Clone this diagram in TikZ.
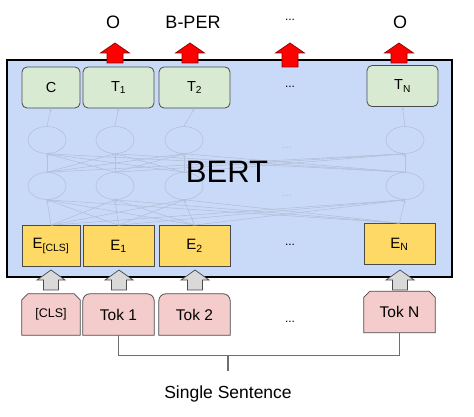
\documentclass[tikz,border=0pt]{standalone}
\usepackage{fontspec}
\setmainfont{Liberation Sans}
\usetikzlibrary{shapes.geometric,arrows.meta,backgrounds}
\definecolor{bertblue}{HTML}{C9DAF8}
\definecolor{outgreen}{HTML}{D9EAD3}
\definecolor{embyellow}{HTML}{FFD966}
\definecolor{tokpink}{HTML}{F4CCCC}
\definecolor{boxline}{HTML}{4A4A4A}
\definecolor{faint}{HTML}{B3C1D9}
\definecolor{arrowred}{HTML}{FF0000}
\definecolor{arrowdark}{HTML}{8B0000}
\definecolor{arrowgray}{HTML}{D9D9D9}
\begin{document}
\begin{tikzpicture}[x=1pt,y=1pt,
    outbox/.style={rectangle,rounded corners=5pt,fill=outgreen,draw=boxline,line width=0.8pt,minimum width=71pt,minimum height=41pt,inner sep=1pt,font=\fontsize{14.5}{16}\selectfont},
    embbox/.style={rectangle,fill=embyellow,draw=boxline,line width=0.8pt,minimum width=71pt,minimum height=41pt,inner sep=1pt,font=\fontsize{15}{17}\selectfont},
    tokbox/.style={rectangle,minimum width=71pt,minimum height=41pt,inner sep=1pt,font=\fontsize{15.5}{17}\selectfont},
    tokshape/.style={fill=tokpink,draw=boxline,line width=0.8pt},
    hid/.style={ellipse,draw=faint,line width=0.6pt,minimum width=38pt,minimum height=27pt},
    wire/.style={draw=faint,line width=0.6pt,-{Stealth[length=3pt,width=2.5pt]}},
    label/.style={font=\fontsize{18}{20}\selectfont},
    dots/.style={font=\fontsize{12}{14}\selectfont},
    redup/.pic={\draw[pic actions] (-8,0) -- (-8,#1) -- (-14.5,#1) -- (0,#1+10) -- (14.5,#1) -- (8,#1) -- (8,0) -- cycle;},
    grayup/.pic={\draw[pic actions] (-7.5,0) -- (-7.5,10) -- (-14,10) -- (0,20) -- (14,10) -- (7.5,10) -- (7.5,0) -- cycle;}]

    \useasboundingbox (0,0) rectangle (474,-417);
    \draw[fill=bertblue,line width=1.6pt] (7,-60) rectangle (452,-277);

    % output layer
    \node[outbox,minimum width=58pt] (C) at (51,-87.5) {C};
    \node[outbox] (T1) at (118.5,-87.5) {T\textsubscript{1}};
    \node[outbox] (T2) at (194.5,-87.5) {T\textsubscript{2}};
    \node[dots] (tdots) at (290,-87) {...};
    \node[outbox] (TN) at (402.5,-86) {T\textsubscript{N}};

    % hidden layers
    \node[hid] (up1) at (47,-140) {};
    \node[hid] (up2) at (115,-140) {};
    \node[hid] (up3) at (184,-140) {};
    \node[hid] (up4) at (405,-140) {};
    \node[hid] (lo1) at (47,-186) {};
    \node[hid] (lo2) at (115,-186) {};
    \node[hid] (lo3) at (184,-186) {};
    \node[hid] (lo4) at (405,-186) {};
    \node[dots,text=faint] at (287,-148) {...};
    \node[dots,text=faint] at (287,-196) {...};

    % embeddings
    \node[embbox,minimum width=58pt] (E0) at (51,-246) {E\textsubscript{[CLS]}};
    \node[embbox] (E1) at (118.5,-246) {E\textsubscript{1}};
    \node[embbox] (E2) at (194.5,-246) {E\textsubscript{2}};
    \node[dots] (edots) at (290,-245) {...};
    \node[embbox] (EN) at (399.5,-244) {E\textsubscript{N}};

    \foreach \a in {E0,E1,E2,EN}
        \foreach \b in {1,...,4}
            \draw[wire] (\a.north) -- (lo\b.south);
    \foreach \a in {1,...,4}
        \foreach \b in {1,...,4}
            \draw[wire] (lo\a.north) -- (up\b.south);
    \foreach \a/\b in {1/C,2/T1,3/T2,4/TN}
        \draw[wire] (up\a.north) -- (\b.south);

    \node[font=\fontsize{31}{34}\selectfont] (bert) at (227,-172) {BERT};

    % input tokens
    \node[tokbox,minimum width=58pt,font=\fontsize{12.5}{14}\selectfont] (cls) at (51,-314.5) {[CLS]};
    \node[tokbox] (tok1) at (118.5,-314.5) {Tok 1};
    \node[tokbox] (tok2) at (194.5,-314.5) {Tok 2};
    \node[dots] (kdots) at (290,-322) {...};
    \node[tokbox] (tokN) at (399.5,-312) {Tok N};
    \begin{scope}[on background layer]
        \draw[tokshape] (cls.south west) -- ([yshift=-6pt]cls.north west) -- ([xshift=6pt]cls.north west)
            -- ([xshift=-6pt]cls.north east) -- ([yshift=-6pt]cls.north east) -- (cls.south east) -- cycle;
        \draw[tokshape] (tokN.south west) -- ([yshift=-6pt]tokN.north west) -- ([xshift=6pt]tokN.north west)
            -- ([xshift=-6pt]tokN.north east) -- ([yshift=-6pt]tokN.north east) -- (tokN.south east) -- cycle;
        \foreach \t in {tok1,tok2}
            \draw[tokshape] (\t.south west) -- ([yshift=-7pt]\t.north west) arc[start angle=180,end angle=90,radius=7pt]
                -- ([xshift=-7pt]\t.north east) arc[start angle=90,end angle=0,radius=7pt] -- (\t.south east) -- cycle;
    \end{scope}

    % arrows
    \foreach \x in {51,119,195,400}
        \pic[fill=arrowgray,draw=boxline,line width=0.7pt] at (\x,-290) {grayup};
    \pic[fill=arrowred,draw=arrowdark,line width=0.7pt] at (115,-63) {redup=10};
    \pic[fill=arrowred,draw=arrowdark,line width=0.7pt] at (190,-63) {redup=10};
    \pic[fill=arrowred,draw=arrowdark,line width=0.7pt] at (290,-67) {redup=14};
    \pic[fill=arrowred,draw=arrowdark,line width=0.7pt] at (399,-63) {redup=10};

    \node[label] (o1) at (113,-22) {O};
    \node[label] (o2) at (193,-22) {B-PER};
    \node[dots] (odots) at (290,-20) {...};
    \node[label] (o3) at (400,-22) {O};

    % sentence bracket
    \node[font=\fontsize{17.5}{20}\selectfont] (sent) at (228,-394) {Single Sentence};
    \draw[boxline!80,line width=1.2pt] (tok1.south) -- ++(0,-20) coordinate (bl) -| (tokN.south);
    \draw[boxline!80,line width=1.2pt] (sent.north |- bl) -- ++(0,-16);
\end{tikzpicture}
\end{document}
